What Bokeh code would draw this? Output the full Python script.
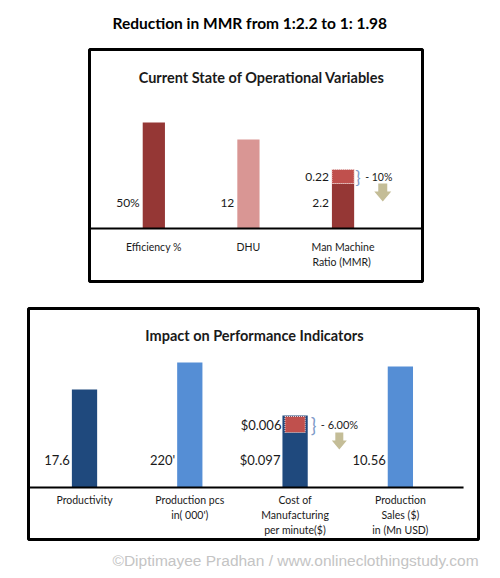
from bokeh.plotting import figure
from bokeh.layouts import column
from bokeh.models import Range1d, Span
from bokeh.core.properties import value
from bokeh.embed import file_html
from bokeh.resources import INLINE

# ---------------- data ----------------
main_title = "Reduction in MMR from 1:2.2 to 1: 1.98"

ops_title = "Current State of Operational Variables"
ops_categories = ["Efficiency %", "DHU", "Man Machine\nRatio  (MMR)"]
ops_values = ["50%", "12", "2.2"]
ops_bar_heights = [106, 89, 45]          # relative bar heights as drawn
ops_colors = ["#953735", "#d99694", "#953735"]
mmr_reduction_value = "0.22"
mmr_reduction_height = 14
mmr_reduction_pct = "- 10%"

kpi_title = "Impact on Performance Indicators"
kpi_categories = ["Productivity", "Production pcs\nin( 000')",
                  "Cost of\nManufacturing\nper minute($)",
                  "Production\nSales ($)\nin (Mn USD)"]
kpi_values = ["17.6", "220'", "$0.097", "10.56"]
kpi_bar_heights = [98, 125, 72, 121]     # relative bar heights as drawn
kpi_colors = ["#1f497d", "#558ed5", "#1f497d", "#558ed5"]
cost_reduction_value = "$0.006"
cost_reduction_height = 16
cost_reduction_pct = "- 6.00%"

watermark = "\u00a9Diptimayee Pradhan / www.onlineclothingstudy.com"

# ---------------- style ----------------
FONT = "Lato"
TXT = "#1a1a1a"
RED_SEG = "#c0504d"
KHAKI = "#c4bd97"
BRACE = "#7f9cc9"
PAGE_W = 484


def base_fig(w, h, xr, yr, left, right, top, bottom, outline=True):
    p = figure(width=w, height=h, x_range=Range1d(*xr), y_range=Range1d(*yr),
               min_border_left=left, min_border_right=right,
               min_border_top=top, min_border_bottom=bottom,
               x_axis_location=None, y_axis_location=None,
               output_backend="svg", toolbar_location=None)
    p.frame_align = False
    p.grid.visible = False
    p.outline_line_color = "black" if outline else None
    p.outline_line_width = 3
    p.background_fill_color = "white"
    p.border_fill_color = "white"
    return p


def text_strip(h, txt, x, y, font, size, style, color):
    # a borderless strip whose frame is the whole strip, y counted from the top
    p = base_fig(PAGE_W, h, (0, PAGE_W), (h, 0), 0, 0, 0, 0, outline=False)
    p.text(x=[x], y=[y], text=[txt], text_align="left", text_baseline="middle",
           text_font=value(font), text_font_size=size, text_font_style=style,
           text_color=color)
    return p


def down_arrow(p, xc, y_top, px_per_x, stem_w, head_w, stem_len, head_len):
    hs = stem_w / 2 / px_per_x
    hh = head_w / 2 / px_per_x
    y1 = y_top - stem_len
    y2 = y1 - head_len
    xs = [xc - hs, xc + hs, xc + hs, xc + hh, xc, xc - hh, xc - hs]
    ys = [y_top, y_top, y1, y1, y2, y1, y1]
    p.patch(xs, ys, fill_color=KHAKI, line_color=None)


# ---------------- main title strip ----------------
p0 = text_strip(30, main_title, 112, 22, FONT, "15.5px", "bold", "black")

# ---------------- top panel ----------------
X1 = (-0.68, 2.84)
L1, R1 = 89, 62
W1 = PAGE_W - L1 - R1
PX1 = W1 / (X1[1] - X1[0])
BW1 = 0.235

p1 = base_fig(PAGE_W, 260, X1, (-53, 179), L1, R1, 19, 9)

ops_x = list(range(len(ops_categories)))
p1.vbar(x=ops_x, top=ops_bar_heights, bottom=0, width=BW1,
        fill_color=ops_colors, line_color=None)
p1.add_layout(Span(location=0, dimension="width", line_color="black", line_width=2))

i_mmr = 2
seg_b = ops_bar_heights[i_mmr]
seg_t = seg_b + mmr_reduction_height
seg_mid = (seg_b + seg_t) / 2
p1.vbar(x=[i_mmr], bottom=[seg_b], top=[seg_t], width=BW1,
        fill_color=RED_SEG, line_color="#f2dcdb", line_dash="1 1", line_width=1)

half1 = BW1 / 2 * PX1
p1.text(x=ops_x, y=[26] * len(ops_x), text=ops_values, x_offset=-(half1 + 3),
        text_align="right", text_baseline="middle", text_font=value(FONT),
        text_font_size="12px", text_color=TXT)
p1.text(x=[i_mmr], y=[seg_mid], text=[mmr_reduction_value], x_offset=-(half1 + 3),
        text_align="right", text_baseline="middle", text_font=value(FONT),
        text_font_size="12px", text_color=TXT)
p1.text(x=[i_mmr], y=[seg_mid], text=["}"], x_offset=half1 + 1,
        text_align="left", text_baseline="middle", text_font=value(FONT),
        text_font_size="18px", text_color=BRACE)
p1.text(x=[i_mmr], y=[seg_mid], text=[mmr_reduction_pct], x_offset=half1 + 11,
        text_align="left", text_baseline="middle", text_font=value(FONT),
        text_font_size="10.5px", text_color=TXT)
down_arrow(p1, i_mmr + 0.42, seg_b, PX1, 9, 17, 8, 10)

p1.text(x=ops_x, y=[-12] * len(ops_x), text=ops_categories,
        text_align="center", text_baseline="top", text_font=value(FONT),
        text_font_size="10.5px", text_line_height=1.3, text_color=TXT)
p1.text(x=[1.14], y=[151], text=[ops_title], text_align="center",
        text_baseline="middle", text_font=value(FONT), text_font_size="14.5px",
        text_font_style="bold", text_color=TXT)

# ---------------- bottom panel ----------------
X2 = (-0.532, 3.742)
L2, R2 = 28, 6
W2 = PAGE_W - L2 - R2
PX2 = W2 / (X2[1] - X2[0])
BW2 = 0.24

p2 = base_fig(PAGE_W, 252, X2, (-52, 179), L2, R2, 18, 3)
kpi_x = list(range(len(kpi_categories)))
p2.vbar(x=kpi_x, top=kpi_bar_heights, bottom=0, width=BW2,
        fill_color=kpi_colors, line_color=None)
p2.segment(x0=[X2[0]], y0=[0], x1=[3.6], y1=[0], line_color="black", line_width=2)

i_cost = 2
cseg_t = kpi_bar_heights[i_cost] - 1
cseg_b = cseg_t - cost_reduction_height
cseg_mid = (cseg_t + cseg_b) / 2
p2.vbar(x=[i_cost], bottom=[cseg_b], top=[cseg_t], width=BW2 - 5 / PX2,
        fill_color=RED_SEG, line_color="#f2dcdb", line_dash="1 1", line_width=1)

half2 = BW2 / 2 * PX2
p2.text(x=kpi_x, y=[28] * len(kpi_x), text=kpi_values, x_offset=-(half2 + 2),
        text_align="right", text_baseline="middle", text_font=value(FONT),
        text_font_size="13px", text_color=TXT)
p2.text(x=[i_cost], y=[cseg_mid], text=[cost_reduction_value], x_offset=-(half2 + 1),
        text_align="right", text_baseline="middle", text_font=value(FONT),
        text_font_size="13px", text_color=TXT)
p2.text(x=[i_cost], y=[cseg_mid], text=["}"], x_offset=half2 + 3,
        text_align="left", text_baseline="middle", text_font=value(FONT),
        text_font_size="19px", text_color=BRACE)
p2.text(x=[i_cost], y=[cseg_mid], text=[cost_reduction_pct], x_offset=half2 + 13,
        text_align="left", text_baseline="middle", text_font=value(FONT),
        text_font_size="11px", text_color=TXT)
down_arrow(p2, i_cost + 0.42, 55, PX2, 8, 15, 8, 9)

p2.text(x=kpi_x, y=[-6] * len(kpi_x), text=kpi_categories,
        text_align="center", text_baseline="top", text_font=value(FONT),
        text_font_size="10.5px", text_line_height=1.28, text_color=TXT)
p2.text(x=[1.614], y=[152], text=[kpi_title], text_align="center",
        text_baseline="middle", text_font=value(FONT), text_font_size="14.5px",
        text_font_style="bold", text_color=TXT)

# ---------------- watermark strip ----------------
p3 = text_strip(30, watermark, 112, 18, "Liberation Sans", "15.5px", "normal", "#c4c4c4")

layout = column(p0, p1, p2, p3, spacing=0)
open("out.html", "w").write(file_html(layout, INLINE))
